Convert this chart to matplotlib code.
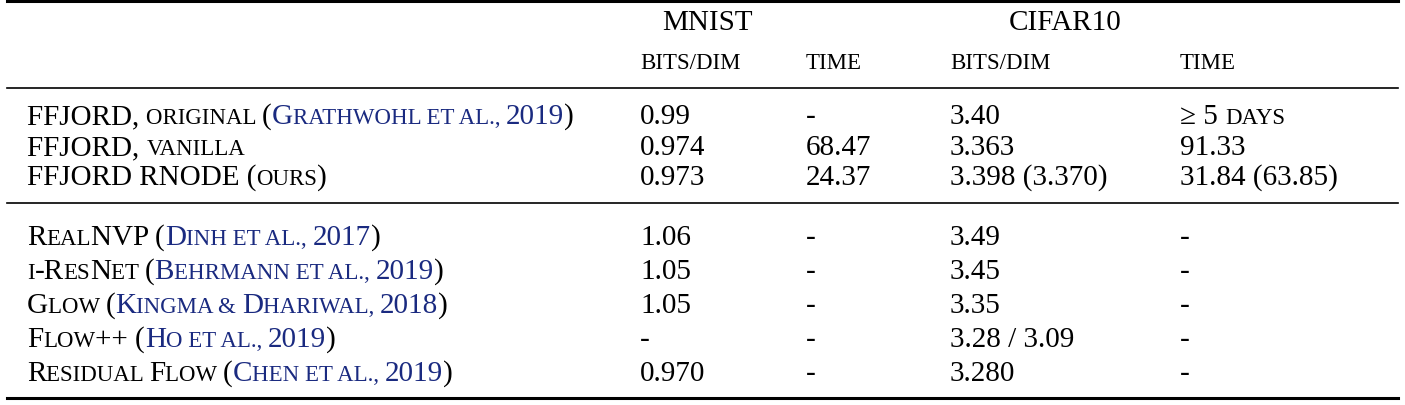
import matplotlib.pyplot as plt

plt.rcParams['font.family'] = ['Liberation Serif', 'DejaVu Serif']

BLUE = '#1a2a80'
BIG = 21
SMALL = 16.5

# each label: list of (text, kind) with kind 'n' black, 'c' blue citation
methods = [
    [("FFJORD, original ", 'n'), ("(", 'n'), ("Grathwohl et al., 2019", 'c'), (")", 'n')],
    [("FFJORD, vanilla", 'n')],
    [("FFJORD RNODE (ours)", 'n')],
    [("RealNVP ", 'n'), ("(", 'n'), ("Dinh et al., 2017", 'c'), (")", 'n')],
    [("i-ResNet ", 'n'), ("(", 'n'), ("Behrmann et al., 2019", 'c'), (")", 'n')],
    [("Glow ", 'n'), ("(", 'n'), ("Kingma & Dhariwal, 2018", 'c'), (")", 'n')],
    [("Flow++ ", 'n'), ("(", 'n'), ("Ho et al., 2019", 'c'), (")", 'n')],
    [("Residual Flow ", 'n'), ("(", 'n'), ("Chen et al., 2019", 'c'), (")", 'n')],
]
mnist_bits = ["0.99", "0.974", "0.973", "1.06", "1.05", "1.05", "-", "0.970"]
mnist_time = ["-", "68.47", "24.37", "-", "-", "-", "-", "-"]
cifar_bits = ["3.40", "3.363", "3.398 (3.370)", "3.49", "3.45", "3.35", "3.28 / 3.09", "3.280"]
cifar_time = ["\u2265 5 days", "91.33", "31.84 (63.85)", "-", "-", "-", "-", "-"]

row_y = [116, 147, 178, 237, 265, 293, 321, 349]
row_y = [116, 147, 177, 237, 271, 305, 339, 373]
col_x = [640, 806, 950, 1180]

fig = plt.figure(figsize=(14.05, 4.06), dpi=100)
ax = fig.add_axes([0, 0, 1, 1])
ax.set_xlim(0, 1405)
ax.set_ylim(406, 0)
ax.axis('off')
renderer = fig.canvas.get_renderer()


def smallcaps(s):
    # lowercase letters -> small uppercase, keep the rest full size
    segs = []
    for ch in s:
        small = ch.islower() or (ch in " .,&" and segs and segs[-1][1])
        if segs and segs[-1][1] == small:
            segs[-1][0] += ch.upper()
        else:
            segs.append([ch.upper(), small])
    return segs


def width(s, size):
    # measure with a guard char so trailing spaces count
    t1 = ax.text(0, 0, s + "|", fontsize=size)
    t2 = ax.text(0, 0, "|", fontsize=size)
    w = t1.get_window_extent(renderer).width - t2.get_window_extent(renderer).width
    t1.remove()
    t2.remove()
    return w


def draw_rich(x, y, parts):
    for text, kind in parts:
        color = BLUE if kind == 'c' else 'black'
        for seg, small in smallcaps(text):
            size = SMALL if small else BIG
            ax.text(x, y, seg, fontsize=size, color=color, va='baseline', ha='left')
            x += width(seg, size)
    return x


base = 8  # baseline offset below row centre
for i, parts in enumerate(methods):
    draw_rich(27, row_y[i] + base, parts)
    for cx, col in zip(col_x, [mnist_bits, mnist_time, cifar_bits, cifar_time]):
        draw_rich(cx, row_y[i] + base, [(col[i], 'n')])

# headers
ax.text(707, 22 + base, "MNIST", fontsize=BIG, ha='center', va='baseline')
ax.text(1065, 22 + base, "CIFAR10", fontsize=BIG, ha='center', va='baseline')
for cx, h in zip(col_x, ["BITS/DIM", "TIME", "BITS/DIM", "TIME"]):
    ax.text(cx, 62 + 7, h, fontsize=SMALL, ha='left', va='baseline')

# rules
ax.plot([7, 1398], [2, 2], color='black', lw=2.2)
ax.plot([7, 1398], [89, 89], color='black', lw=1.2)
ax.plot([7, 1398], [204, 204], color='black', lw=1.2)
ax.plot([7, 1398], [399, 399], color='black', lw=2.2)

fig.savefig("out.png", dpi=100)
